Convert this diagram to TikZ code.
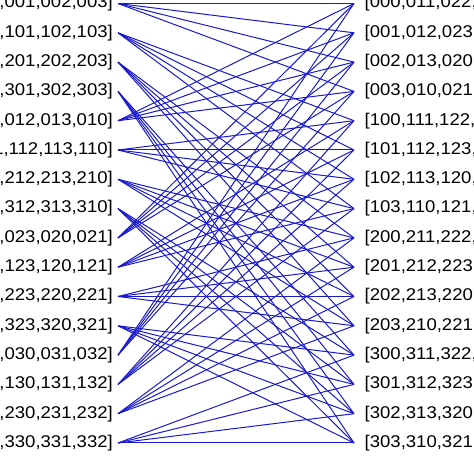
\documentclass[tikz,border=0pt]{standalone}
\usepackage{fontspec}
\setmainfont[FakeStretch=1.09]{Liberation Sans}
\usepackage{xcolor}
\definecolor{edgeblue}{RGB}{25,25,205}
\tikzset{lbl/.style={font=\fontsize{17}{19}\selectfont,inner ysep=2pt},
 lft/.style={lbl,anchor=east,inner xsep=5pt},
 rgt/.style={lbl,anchor=west,inner xsep=10.5pt},
 link/.style={draw=edgeblue,line width=1pt},
 }

\begin{document}
\begin{tikzpicture}[x=1pt,y=1pt]
        \clip (0,0) rectangle (474,474);
        \useasboundingbox (0,0) rectangle (474,474);
        % left column
        \node[lft] (l00) at (118, 470.5) {[000,001,002,003]};
        \node[lft] (l10) at (118, 441.2) {[100,101,102,103]};
        \node[lft] (l20) at (118, 411.9) {[200,201,202,203]};
        \node[lft] (l30) at (118, 382.6) {[300,301,302,303]};
        \node[lft] (l01) at (118, 353.3) {[011,012,013,010]};
        \node[lft] (l11) at (118, 324.0) {[111,112,113,110]};
        \node[lft] (l21) at (118, 294.7) {[211,212,213,210]};
        \node[lft] (l31) at (118, 265.4) {[311,312,313,310]};
        \node[lft] (l02) at (118, 236.1) {[022,023,020,021]};
        \node[lft] (l12) at (118, 206.8) {[122,123,120,121]};
        \node[lft] (l22) at (118, 177.5) {[222,223,220,221]};
        \node[lft] (l32) at (118, 148.2) {[322,323,320,321]};
        \node[lft] (l03) at (118, 118.9) {[033,030,031,032]};
        \node[lft] (l13) at (118, 89.6) {[133,130,131,132]};
        \node[lft] (l23) at (118, 60.3) {[233,230,231,232]};
        \node[lft] (l33) at (118, 31.0) {[333,330,331,332]};
        % right column
        \node[rgt] (r00) at (354, 470.5) {[000,011,022,033]};
        \node[rgt] (r01) at (354, 441.2) {[001,012,023,030]};
        \node[rgt] (r02) at (354, 411.9) {[002,013,020,031]};
        \node[rgt] (r03) at (354, 382.6) {[003,010,021,032]};
        \node[rgt] (r10) at (354, 353.3) {[100,111,122,133]};
        \node[rgt] (r11) at (354, 324.0) {[101,112,123,130]};
        \node[rgt] (r12) at (354, 294.7) {[102,113,120,131]};
        \node[rgt] (r13) at (354, 265.4) {[103,110,121,132]};
        \node[rgt] (r20) at (354, 236.1) {[200,211,222,233]};
        \node[rgt] (r21) at (354, 206.8) {[201,212,223,230]};
        \node[rgt] (r22) at (354, 177.5) {[202,213,220,231]};
        \node[rgt] (r23) at (354, 148.2) {[203,210,221,232]};
        \node[rgt] (r30) at (354, 118.9) {[300,311,322,333]};
        \node[rgt] (r31) at (354, 89.6) {[301,312,323,330]};
        \node[rgt] (r32) at (354, 60.3) {[302,313,320,331]};
        \node[rgt] (r33) at (354, 31.0) {[303,310,321,332]};
        % shared first digit
        \foreach \a in {0,...,3}
          \foreach \b in {0,...,3}
            \foreach \c in {0,...,3}
              \draw [link] (l\a\b.east) -- (r\a\c.west);
    \end{tikzpicture}
\end{document}
